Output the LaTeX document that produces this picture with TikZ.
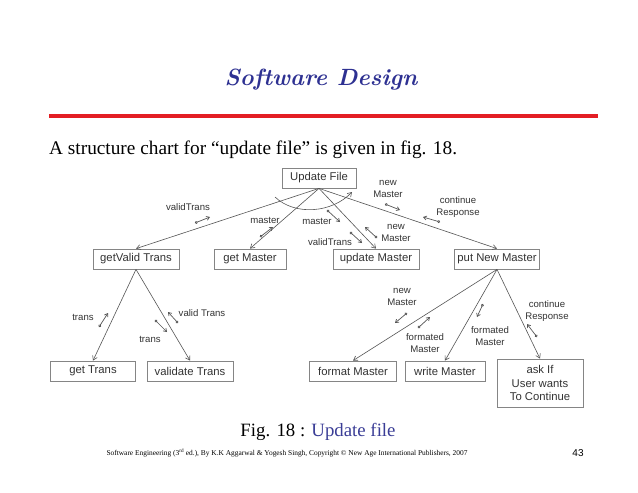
\documentclass[tikz,border=0pt]{standalone}
\usepackage{fontspec}
\setmainfont{Liberation Serif}
\setsansfont{Liberation Sans}
\newfontfamily\titlefont{Latin Modern Roman}
\usetikzlibrary{arrows.meta}
\definecolor{slideblue}{HTML}{2E3192}
\definecolor{capblue}{HTML}{3A3D96}
\definecolor{slidered}{HTML}{E31E24}
\definecolor{boxgray}{HTML}{858585}
\definecolor{linegray}{HTML}{555555}

\begin{document}
\begin{tikzpicture}[x=1pt,y=-1pt,
                module/.style={draw=boxgray,fill=white,line width=0.8pt,minimum height=20pt,
                  minimum width=86pt,inner sep=3pt,text=black!80,
                  font=\sffamily\fontsize{11.3}{13.5}\selectfont},
                call/.style={draw=linegray,line width=0.6pt,-{Straight Barb[length=4pt,width=5pt]}},
                couple/.style={draw=linegray,line width=0.7pt,
                  {Circle[open,length=2.8pt]}-{Straight Barb[length=3pt,width=4pt]}},
                lbl/.style={inner sep=0pt,align=center,text=black!80,
                  font=\sffamily\fontsize{9.6}{12}\selectfont}]
    \useasboundingbox[fill=white] (0,0) rectangle (638,493);

    % slide heading
    \node (title) at (321,80) {\titlefont\bfseries\itshape\fontsize{23.5}{28}\selectfont\color{slideblue}Software Design};
    \draw[slidered,line width=3.5pt] (49,116) -- (598,116);
    \node[anchor=west,inner sep=0pt] (intro) at (49,150)
        {\fontsize{19.3}{22}\selectfont A structure chart for “update file” is given in fig. 18.};

    % modules
    \node[module,minimum width=74pt] (uf) at (319,178) {Update File};
    \node[module] (gv) at (136,259) {getValid Trans};
    \node[module,minimum width=72pt] (gm) at (250,259) {get Master};
    \node[module] (um) at (376,259) {update Master};
    \node[module,minimum width=84pt] (pm) at (497,259) {put New Master};
    \node[module,minimum width=85pt] (gt) at (93,371) {get Trans};
    \node[module] (vt) at (190,371) {validate Trans};
    \node[module,minimum width=87pt] (fm) at (353,371) {format Master};
    \node[module,minimum width=80pt] (wm) at (445,371) {write Master};
    \node[module,minimum height=48pt,align=center] (ak) at (540,383) {ask If\\User wants\\To Continue};

    % calls
    \draw[call] (uf.south) -- (gv.north);
    \draw[call] (uf.south) -- (gm.north);
    \draw[call] (uf.south) -- (um.north);
    \draw[call] (uf.south) -- (pm.north);
    \draw[call] (gv.south) -- (gt.north);
    \draw[call] (gv.south) -- (vt.north);
    \draw[call] (pm.south) -- (fm.north);
    \draw[call] (pm.south) -- (wm.north);
    \draw[call] (pm.south) -- (ak.north);

    % loop
    \draw[call] (275,197) .. controls (295,216) and (332,213) .. (352,192);

    % data couples
    \node[lbl] (l1) at (188,207) {validTrans};
    \draw[couple] (195,223) -- (210,217);
    \node[lbl] (l2) at (265,220) {master};
    \draw[couple] (260,237) -- (273,227);
    \node[lbl] (l3) at (317,221) {master};
    \draw[couple] (327,210) -- (340,222);
    \node[lbl] (l4) at (330,242) {validTrans};
    \draw[couple] (350,232) -- (362,243);
    \node[lbl] (l5) at (396,233) {new\\Master};
    \draw[couple] (377,238) -- (365,227);
    \node[lbl] (l6) at (388,189) {new\\Master};
    \draw[couple] (385,204) -- (400,210);
    \node[lbl] (l7) at (458,207) {continue\\Response};
    \draw[couple] (440,222) -- (423,217);

    \node[lbl] (l8) at (83,317) {trans};
    \draw[couple] (99,327) -- (108,313);
    \node[lbl] (l9) at (202,313) {valid Trans};
    \draw[couple] (178,323) -- (168,312);
    \node[lbl] (l10) at (150,339) {trans};
    \draw[couple] (155,320) -- (167,332);

    \node[lbl] (l11) at (402,297) {new\\Master};
    \draw[couple] (407,313) -- (395,323);
    \node[lbl] (l12) at (425,343) {formated\\Master};
    \draw[couple] (418,328) -- (430,317);
    \node[lbl] (l13) at (490,336) {formated\\Master};
    \draw[couple] (483,304) -- (477,317);
    \node[lbl] (l14) at (547,311) {continue\\Response};
    \draw[couple] (537,337) -- (527,324);

    % caption and footer
    \node (cap) at (318,432) {\fontsize{18.8}{22}\selectfont Fig. 18 : \textcolor{capblue}{Update file}};
    \node (foot) at (287,453) {\fontsize{7.4}{8}\selectfont Software Engineering (3\textsuperscript{rd} ed.), By K.K Aggarwal \& Yogesh Singh, Copyright © New Age International Publishers, 2007};
    \node (page) at (578,453) {\sffamily\fontsize{10}{12}\selectfont 43};
\end{tikzpicture}
\end{document}
